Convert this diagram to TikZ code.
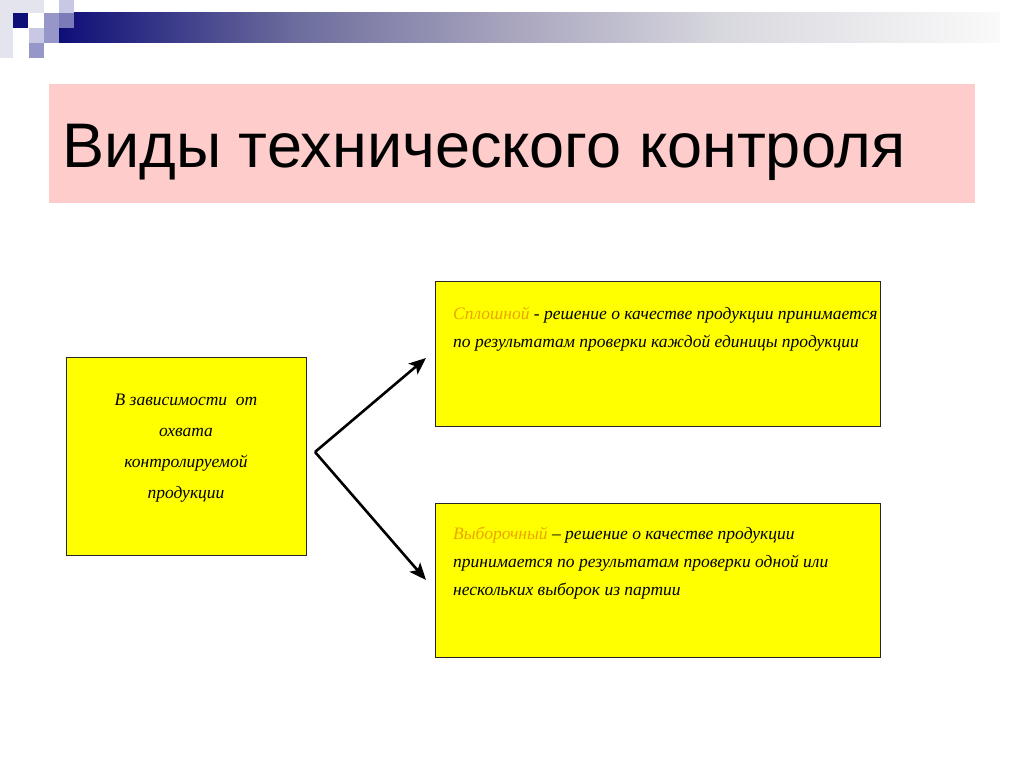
\documentclass[tikz,border=0pt]{standalone}
\usepackage{fontspec}
\setmainfont{Liberation Serif}
\newfontfamily\titlefont{Liberation Sans}
\usetikzlibrary{arrows.meta}
\definecolor{navy}{RGB}{14,14,120}
\definecolor{lavmid}{RGB}{150,150,200}
\definecolor{lavlight}{RGB}{200,200,228}
\definecolor{lavpale}{RGB}{228,228,238}
\definecolor{barA}{RGB}{110,110,158}
\definecolor{barB}{RGB}{165,162,188}
\definecolor{barC}{RGB}{215,215,222}
\definecolor{barend}{RGB}{250,250,250}
\definecolor{pinkbg}{RGB}{255,204,204}
\definecolor{boxyellow}{RGB}{255,255,0}
\definecolor{accent}{RGB}{236,165,0}
\pgfdeclarehorizontalshading{barshade}{100bp}{color(0bp)=(navy); color(25bp)=(navy); color(37.8bp)=(barA); color(48.4bp)=(barB); color(60.1bp)=(barC); color(75bp)=(barend); color(100bp)=(barend)}
\tikzset{
  ybox/.style={draw=black!85, line width=1.2pt, fill=boxyellow, inner sep=0pt, anchor=north west},
  bodytext/.style={font=\itshape\fontsize{17.5}{28}\selectfont, inner sep=0pt},
  arr/.style={line width=2.6pt, -{Stealth[length=17pt,width=14pt,inset=4pt]}},
  sq/.style={inner sep=0pt, minimum size=15pt, anchor=north west}
}
\begin{document}
\begin{tikzpicture}[x=1pt,y=-1pt]
\useasboundingbox (0,0) rectangle (1024,767);
\fill[white] (0,0) rectangle (1024,767);
% decoration
\fill[lavpale] (0,0) rectangle (13,58);
\fill[lavpale] (0,0) rectangle (44,13);
\shade[shading=barshade] (59,13) rectangle (1000,43);
\node[sq, fill=navy] (s1) at (13,13) {};
\node[sq, fill=lavlight] (s2) at (59,0) {};
\node[sq, fill=lavmid] (s3) at (44,13) {};
\node[sq, fill=lavmid!80!navy] (s4) at (59,13) {};
\node[sq, fill=lavlight] (s5) at (29,28) {};
\node[sq, fill=lavmid] (s6) at (44,28) {};
\node[sq, fill=lavmid] (s7) at (29,43) {};
% title
\node[fill=pinkbg, inner sep=0pt, minimum width=926pt, minimum height=119pt, anchor=north west] (titlebox) at (49,84) {};
\node[anchor=base west, inner sep=0pt, font=\titlefont\fontsize{63}{63}\selectfont] (title) at (62,168) {Виды технического контроля};
% boxes
\node[ybox, minimum width=240pt, minimum height=198pt] (left) at (66,357) {};
\node[ybox, minimum width=445pt, minimum height=145pt] (top) at (435,281) {};
\node[ybox, minimum width=445pt, minimum height=154pt] (bottom) at (435,503) {};
\node[bodytext, font=\itshape\fontsize{17.5}{31}\selectfont, align=center] (lefttext) at (186,448) {В зависимости\ \ от\\охвата\\контролируемой\\продукции};
\node[bodytext, align=left, anchor=north west] (toptext) at (453,307) {{\color{accent}Сплошной} - решение о качестве продукции принимается\\по результатам проверки каждой единицы продукции};
\node[bodytext, align=left, anchor=north west] (bottomtext) at (453,527) {{\color{accent}Выборочный} -- решение о качестве продукции\\принимается по результатам проверки одной или\\нескольких выборок из партии};
% arrows
\coordinate (fork) at (315,452);
\coordinate (tipA) at (426,358);
\coordinate (tipB) at (426,580);
\draw[arr] (fork) -- (tipA);
\draw[arr] (fork) -- (tipB);
\end{tikzpicture}
\end{document}
